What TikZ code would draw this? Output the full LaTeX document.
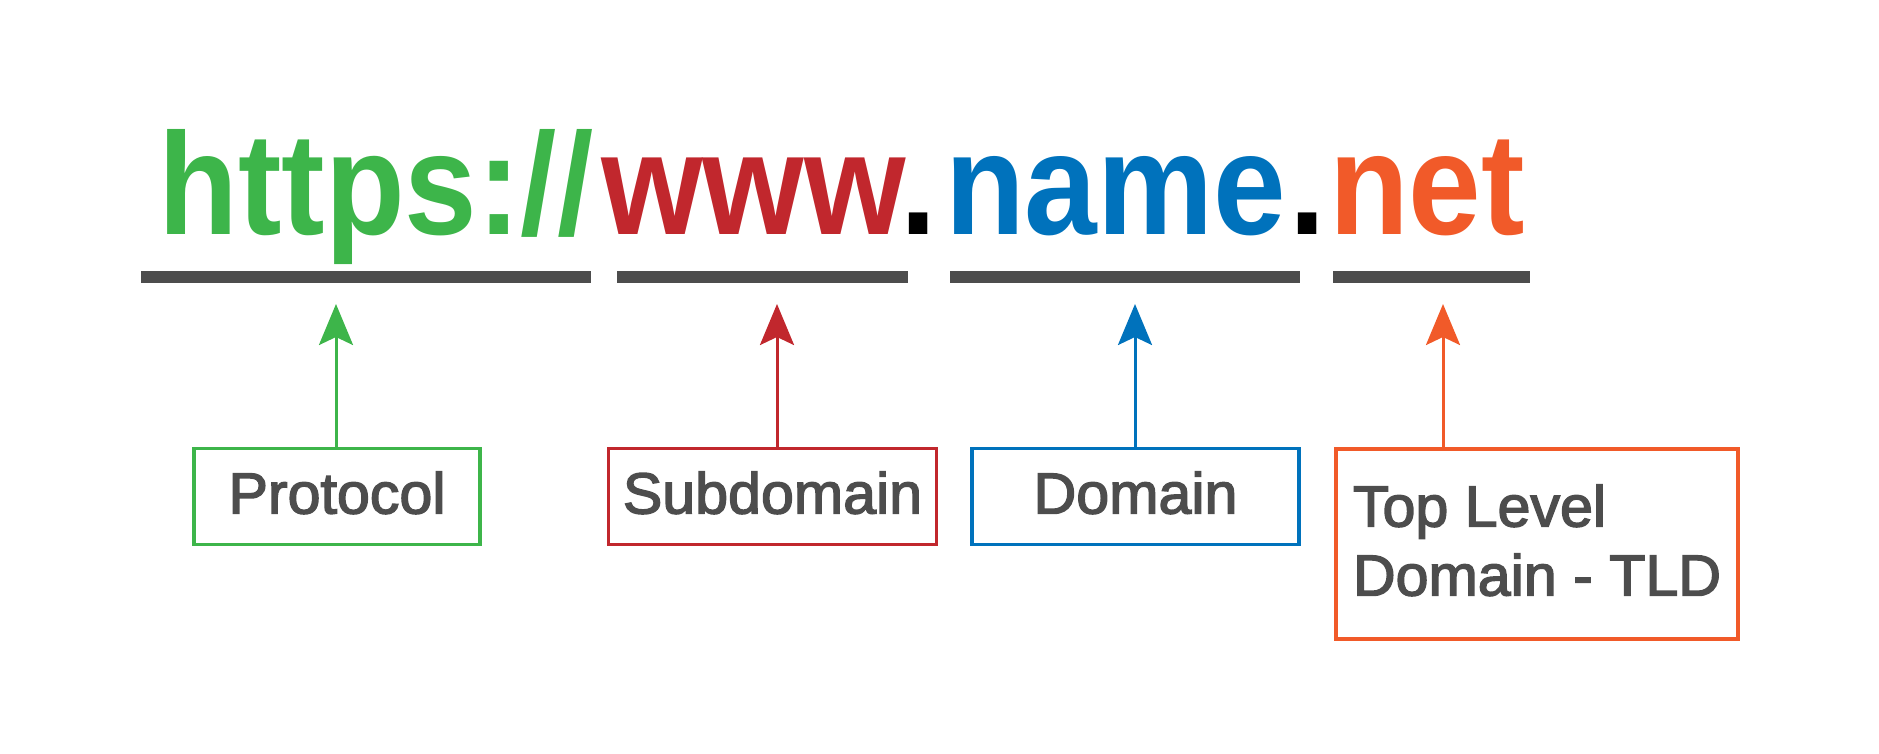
\documentclass[tikz,border=0pt]{standalone}
\usepackage{fontspec}
\setmainfont{Liberation Sans}
\newfontfamily\urlfont[FakeStretch=0.9]{Liberation Sans}
\newfontfamily\labfont[FakeStretch=1.02, FakeBold=2.5]{Liberation Sans}
\usetikzlibrary{arrows.meta}
\definecolor{cgreen}{RGB}{61,181,74}
\definecolor{cred}{RGB}{193,39,45}
\definecolor{cblue}{RGB}{0,114,188}
\definecolor{corange}{RGB}{241,90,41}
\definecolor{cgray}{RGB}{77,77,77}
\begin{document}
\begin{tikzpicture}[x=1pt, y=-1pt,
  seg/.style={text=#1, anchor=base, inner sep=0pt, font=\urlfont\bfseries\fontsize{145}{150}\selectfont},
  bar/.style={fill=cgray, inner sep=0pt, minimum height=12pt, minimum width=#1},
  lab/.style={draw=#1, line width=3.5pt, inner sep=0pt, minimum height=96pt, text depth=8pt, text=cgray, font=\labfont\fontsize{58}{69}\selectfont},
  arr/.style={draw=#1, line width=3pt, {Stealth[length=41pt,width=34pt,inset=8pt]}-}]
\useasboundingbox (0,0) rectangle (1879,754);
% url
\node[seg=cgreen] (seg0) at (376,235) {https://};
\node[seg=cred] (seg1) at (753.5,235) {www};
\node[seg=black] (seg2) at (919,235) {.};
\node[seg=cblue] (seg3) at (1115.5,235) {name};
\node[seg=black] (seg4) at (1307.5,235) {.};
\node[seg=corange] (seg5) at (1427,235) {net};
% bars
\node[bar=450pt] (bar0) at (366,277) {};
\node[bar=291pt] (bar1) at (762.5,277) {};
\node[bar=350pt] (bar2) at (1125,277) {};
\node[bar=197pt] (bar3) at (1431.5,277) {};
% labels
\node[lab=cgreen, minimum width=286pt] (lab0) at (337,496.5) {Protocol};
\node[lab=cred, minimum width=328pt] (lab1) at (772.5,496.5) {Subdomain};
\node[lab=cblue, minimum width=327pt] (lab2) at (1135.5,496.5) {Domain};
\node[lab=corange, minimum width=402pt, minimum height=190pt, align=left] (lab3) at (1537,544) {Top Level\\Domain - TLD};
% arrows
\coordinate (tip0) at (336,304);
\coordinate (tip1) at (777,304);
\coordinate (tip2) at (1135,304);
\coordinate (tip3) at (1443,304);
\draw[arr=cgreen] (tip0) -- (tip0 |- lab0.north);
\draw[arr=cred] (tip1) -- (tip1 |- lab1.north);
\draw[arr=cblue] (tip2) -- (tip2 |- lab2.north);
\draw[arr=corange] (tip3) -- (tip3 |- lab3.north);
\end{tikzpicture}
\end{document}
